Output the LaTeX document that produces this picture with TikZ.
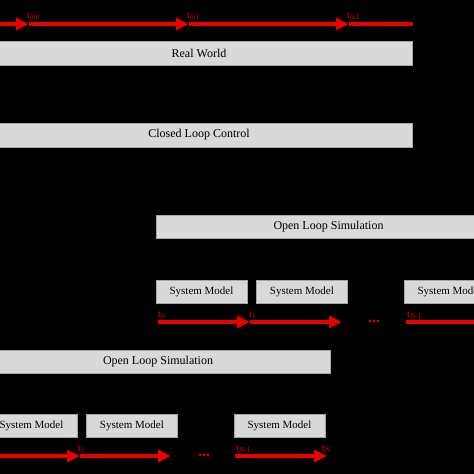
\documentclass[tikz,border=0pt]{standalone}
\usepackage{fontspec}
\setmainfont{Liberation Serif}
\usetikzlibrary{arrows.meta, positioning}
\definecolor{simGray}{HTML}{D9D9D9}
\definecolor{simEdge}{HTML}{A6A6A6}
\definecolor{simRed}{HTML}{E80000}

\begin{document}
\begin{tikzpicture}[
  x=1pt, y=-1pt,
  node distance=9pt,
  widebox/.style={
    rectangle, draw=simEdge, fill=simGray, inner sep=0pt,
    minimum width=426pt, minimum height=24pt,
    font=\fontsize{12}{14}\selectfont,
  },
  simbox/.style={
    rectangle, draw=simEdge, fill=simGray, inner sep=0pt,
    minimum width=345pt, minimum height=23pt,
    font=\fontsize{12}{14}\selectfont,
  },
  modelbox/.style={
    rectangle, draw=simEdge, fill=simGray, inner sep=0pt,
    minimum width=91pt, minimum height=23pt,
    font=\fontsize{11}{13}\selectfont,
  },
  timeline/.style={simRed, line width=4pt, -{Triangle[length=13pt, width=12pt]}},
  tlabel/.style={text=simRed, anchor=base west, inner sep=0pt, font=\fontsize{10.5}{12}\selectfont},
  dots/.style={text=simRed, anchor=base, inner sep=0pt, font=\bfseries\fontsize{16}{18}\selectfont},
]

% Frame
\useasboundingbox (0,0) rectangle (474,474);
\fill[black] (0,0) rectangle (474,474);
\clip (0,0) rectangle (474,474);

% Real time axis
\coordinate (tstart) at (-131,24);
\coordinate (tm0) at (29,24);
\coordinate (tm1) at (189,24);
\coordinate (tm2) at (349,24);
\coordinate (tend) at (413,24);
\draw[timeline] (tstart) -- (tm0);
\draw[timeline] (tm0) -- (tm1);
\draw[timeline] (tm1) -- (tm2);
\draw[simRed, line width=4pt] (tm2) -- (tend);
\node[tlabel] (lm0) at ([xshift=-2pt, yshift=6pt]tm0) {t\textsubscript{m0}};
\node[tlabel] (lm1) at ([xshift=-2pt, yshift=6pt]tm1) {t\textsubscript{m1}};
\node[tlabel] (lm2) at ([xshift=-2pt, yshift=6pt]tm2) {t\textsubscript{m2}};

% Layers
\node[widebox] (real) at (199,53.5) {Real World};
\node[widebox] (ctrl) at (199,135) {Closed Loop Control};

% First open loop simulation
\node[simbox] (olsA) at (328.5,227) {Open Loop Simulation};
\node[modelbox] (smA1) at (201.5,291.5) {System Model};
\node[modelbox, right=of smA1] (smA2) {System Model};
\node[modelbox] (smA3) at (449.5,291.5) {System Model};

\coordinate (a0) at (158,322);
\coordinate (a1) at (250,322);
\coordinate (a2) at (342,322);
\coordinate (aN1) at (406,322);
\coordinate (aN) at (498,322);
\draw[timeline] (a0) -- (a1);
\draw[timeline] (a1) -- (a2);
\draw[timeline] (aN1) -- (aN);
\node[dots] (dA) at (374,322) {...};
\node[tlabel] (la0) at ([yshift=5pt]a0) {t\textsubscript{0}};
\node[tlabel] (la1) at ([xshift=-1pt, yshift=5pt]a1) {t\textsubscript{1}};
\node[tlabel] (laN1) at ([xshift=1pt, yshift=5pt]aN1) {t\textsubscript{N-1}};

% Second open loop simulation
\node[simbox] (olsB) at (158,361.5) {Open Loop Simulation};
\node[modelbox] (smB1) at (31.5,425.5) {System Model};
\node[modelbox, right=of smB1] (smB2) {System Model};
\node[modelbox] (smB3) at (279.5,425.5) {System Model};

\coordinate (b0) at (-12,456);
\coordinate (b1) at (80,456);
\coordinate (b2) at (171,456);
\coordinate (bN1) at (235,456);
\coordinate (bN) at (327,456);
\draw[timeline] (b0) -- (b1);
\draw[timeline] (b1) -- (b2);
\draw[timeline] (bN1) -- (bN);
\node[dots] (dB) at (204,456) {...};
\node[tlabel] (lb1) at ([xshift=-2pt, yshift=5pt]b1) {t\textsubscript{1}};
\node[tlabel] (lbN1) at ([xshift=1pt, yshift=5pt]bN1) {t\textsubscript{N-1}};
\node[tlabel] (lbN) at ([xshift=-5pt, yshift=5pt]bN) {t\textsubscript{N}};

\end{tikzpicture}
\end{document}
